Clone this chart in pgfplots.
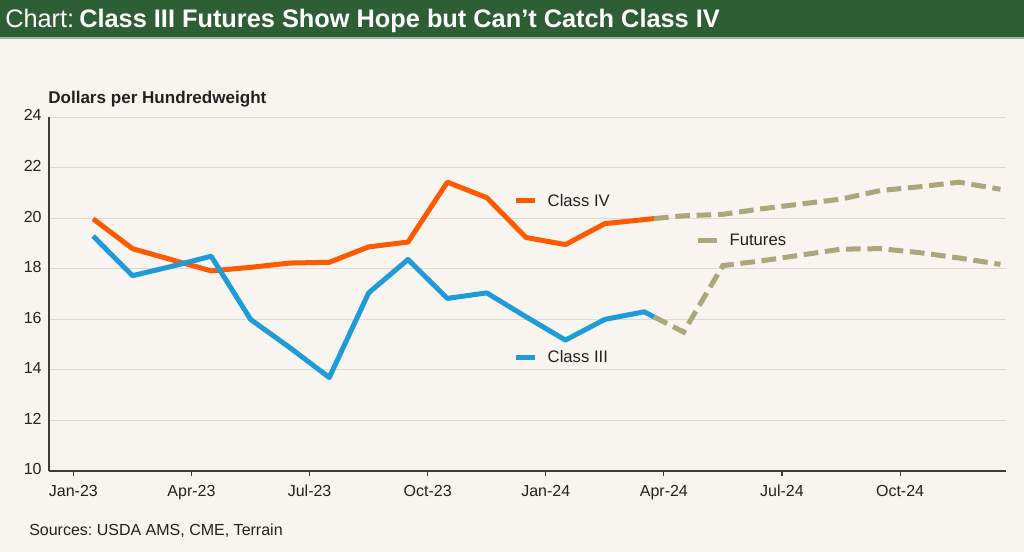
\documentclass[border=0pt]{standalone}
\usepackage{pgfplots}
\pgfplotsset{compat=1.18}
\usepackage{fontspec}
\setmainfont{Liberation Sans}
\frenchspacing

\definecolor{bg}{HTML}{F8F4F0}
\definecolor{barGreen}{HTML}{2D5E34}
\definecolor{barLine}{HTML}{9DB59D}
\definecolor{c4}{HTML}{FF5A00}
\definecolor{c3}{HTML}{1F9BD7}
\definecolor{fut}{HTML}{ADA57B}
\definecolor{gridc}{HTML}{DDD9D4}
\definecolor{axc}{HTML}{3C3C3C}
\definecolor{txt}{HTML}{222222}

% Monthly prices, x = months since 1 Jan 2023 (mid-month points)
\pgfplotstableread{
x y
0.5 19.98
1.5 18.80
2.5 18.36
3.5 17.92
4.5 18.06
5.5 18.23
6.5 18.26
7.5 18.87
8.5 19.06
9.5 21.43
10.5 20.82
11.5 19.24
12.5 18.96
13.5 19.79
14.5 19.95
14.75 19.99
}\classiv
\pgfplotstableread{
x y
0.5 19.30
1.5 17.73
2.5 18.10
3.5 18.50
4.5 16.00
5.5 14.88
6.5 13.70
7.5 17.05
8.5 18.37
9.5 16.83
10.5 17.05
11.5 16.10
12.5 15.18
13.5 16.00
14.5 16.30
14.75 16.10
}\classiii
\pgfplotstableread{
x y
14.75 19.99
15.5 20.10
16.5 20.16
17.5 20.38
18.5 20.57
19.5 20.76
20.5 21.10
21.5 21.25
22.5 21.43
23.55 21.15
}\futiv
\pgfplotstableread{
x y
14.75 16.10
15.5 15.50
16.5 18.13
17.5 18.32
18.5 18.55
19.5 18.78
20.5 18.80
21.5 18.64
22.5 18.43
23.55 18.18
}\futiii

\begin{document}
\begin{tikzpicture}
\fill[bg] (0,0) rectangle (768pt,414pt);
\fill[barGreen] (0,385.5pt) rectangle (768pt,414pt);
\draw[barLine, line width=1pt] (0,385.5pt) -- (768pt,385.5pt);
\node[anchor=base west, text=white, inner sep=0pt] at (3.75pt,393.5pt)
  {\fontsize{19}{22}\selectfont Chart:\hspace{0.2em}\textbf{Class III Futures Show Hope but Can’t Catch Class IV}};
\node[anchor=base west, text=txt, inner sep=0pt] at (36pt,336.4pt)
  {\fontsize{12.8}{15}\selectfont\bfseries Dollars per Hundredweight};
\node[anchor=base west, text=txt, inner sep=0pt] at (21.75pt,12pt)
  {\fontsize{12}{14}\selectfont Sources: USDA AMS, CME, Terrain};

\begin{axis}[
  at={(36.75pt,60.75pt)}, anchor=south west,
  scale only axis, width=718pt, height=265.3pt,
  xmin=-0.62, xmax=23.7, ymin=10, ymax=24,
  axis x line*=bottom, axis y line*=left,
  axis line style={axc, line width=1pt},
  xtick={0,3,...,21},
  xticklabels={Jan-23,Apr-23,Jul-23,Oct-23,Jan-24,Apr-24,Jul-24,Oct-24},
  ytick={10,12,...,24},
  ymajorgrids, grid style={gridc, line width=0.8pt},
  tick align=outside, major tick length=4pt,
  x tick style={axc, line width=0.8pt},
  y tick style={draw=none},
  /pgf/number format/assume math mode=true,
  typeset ticklabels with strut,
  tick label style={font=\fontsize{12}{14}\selectfont, text=txt},
  xticklabel style={yshift=-2pt},
  yticklabel style={xshift=2pt},
  clip=false,
]
\addplot[c4, line width=3.75pt, line join=round] table {\classiv};
\addplot[c3, line width=3.75pt, line join=round] table {\classiii};
\addplot[fut, line width=3.75pt, dash pattern=on 11pt off 5pt] table {\futiv};
\addplot[fut, line width=3.75pt, dash pattern=on 11pt off 5pt] table {\futiii};

% inline legend
\draw[c4, line width=3.75pt] (axis cs:11.24,20.71) -- (axis cs:11.73,20.71);
\node[anchor=west, text=txt, font=\fontsize{12.5}{14}\selectfont] at (axis cs:11.93,20.71) {Class IV};
\draw[c3, line width=3.75pt] (axis cs:11.24,14.51) -- (axis cs:11.73,14.51);
\node[anchor=west, text=txt, font=\fontsize{12.5}{14}\selectfont] at (axis cs:11.93,14.51) {Class III};
\draw[fut, line width=3.75pt] (axis cs:15.87,19.13) -- (axis cs:16.35,19.13);
\node[anchor=west, text=txt, font=\fontsize{12.5}{14}\selectfont] at (axis cs:16.55,19.13) {Futures};
\end{axis}
\pgfresetboundingbox
\useasboundingbox (0,0) rectangle (768pt,414pt);
\end{tikzpicture}
\end{document}
